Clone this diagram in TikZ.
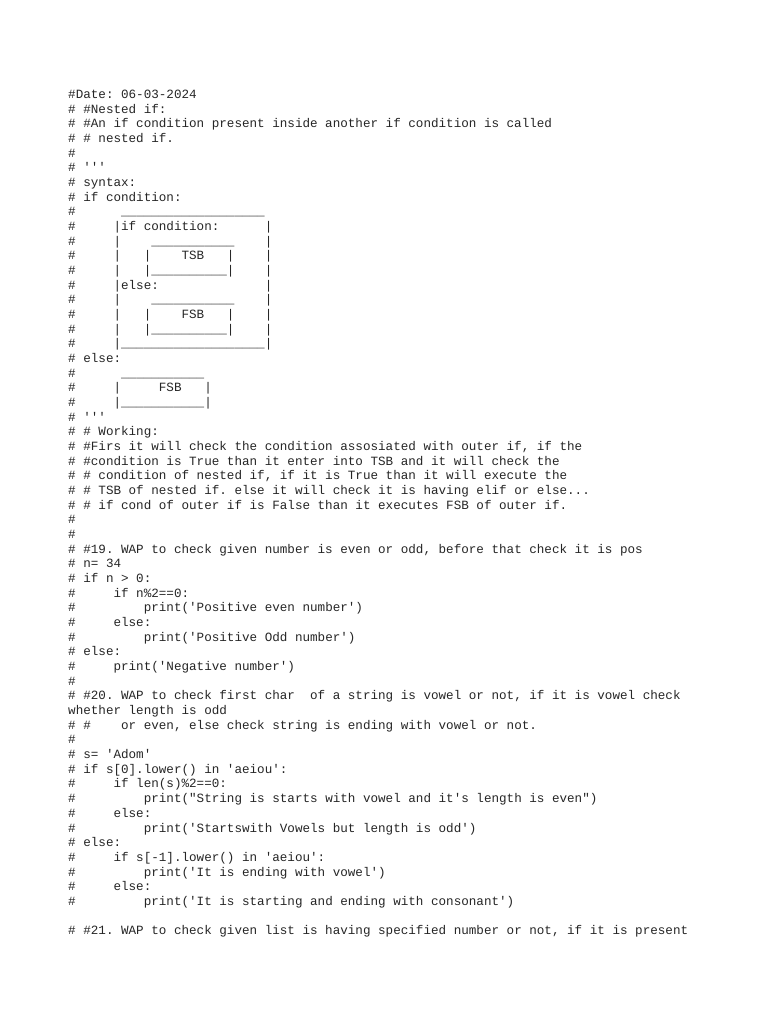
\documentclass[tikz,border=0pt]{standalone}
\usepackage{fontspec}
\setmonofont{Liberation Mono}
\begin{document}
\begin{tikzpicture}[x=1pt,y=1pt,ln/.style={anchor=base west,inner sep=0pt,font=\ttfamily\fontsize{12.6}{14}\selectfont,text=black!85}]
\fill[white] (0,0) rectangle (768,-1024);
\useasboundingbox (0,0) rectangle (768,-1024);
\newcommand\codeline[2]{\node[ln] (l#1) at (68,{-(98.5+14.67*(#1-1))}) {#2};}
\codeline{1}{\#Date: 06-03-2024}
\codeline{2}{\# \#Nested if:}
\codeline{3}{\# \#An if condition present inside another if condition is called}
\codeline{4}{\# \# nested if.}
\codeline{5}{\#}
\codeline{6}{\# '{}'{}'}
\codeline{7}{\# syntax:}
\codeline{8}{\# if condition:}
\codeline{9}{\#~~~~~~\_\_\_\_\_\_\_\_\_\_\_\_\_\_\_\_\_\_\_}
\codeline{10}{\#~~~~~|if condition:~~~~~~|}
\codeline{11}{\#~~~~~|~~~~\_\_\_\_\_\_\_\_\_\_\_~~~~|}
\codeline{12}{\#~~~~~|~~~|~~~~TSB~~~|~~~~|}
\codeline{13}{\#~~~~~|~~~|\_\_\_\_\_\_\_\_\_\_|~~~~|}
\codeline{14}{\#~~~~~|else:~~~~~~~~~~~~~~|}
\codeline{15}{\#~~~~~|~~~~\_\_\_\_\_\_\_\_\_\_\_~~~~|}
\codeline{16}{\#~~~~~|~~~|~~~~FSB~~~|~~~~|}
\codeline{17}{\#~~~~~|~~~|\_\_\_\_\_\_\_\_\_\_|~~~~|}
\codeline{18}{\#~~~~~|\_\_\_\_\_\_\_\_\_\_\_\_\_\_\_\_\_\_\_|}
\codeline{19}{\# else:}
\codeline{20}{\#~~~~~~\_\_\_\_\_\_\_\_\_\_\_}
\codeline{21}{\#~~~~~|~~~~~FSB~~~|}
\codeline{22}{\#~~~~~|\_\_\_\_\_\_\_\_\_\_\_|}
\codeline{23}{\# '{}'{}'}
\codeline{24}{\# \# Working:}
\codeline{25}{\# \#Firs it will check the condition assosiated with outer if, if the}
\codeline{26}{\# \#condition is True than it enter into TSB and it will check the}
\codeline{27}{\# \# condition of nested if, if it is True than it will execute the}
\codeline{28}{\# \# TSB of nested if. else it will check it is having elif or else...}
\codeline{29}{\# \# if cond of outer if is False than it executes FSB of outer if.}
\codeline{30}{\#}
\codeline{31}{\#}
\codeline{32}{\# \#19. WAP to check given number is even or odd, before that check it is pos}
\codeline{33}{\# n= 34}
\codeline{34}{\# if n > 0:}
\codeline{35}{\#~~~~~if n\%2==0:}
\codeline{36}{\#~~~~~~~~~print('Positive even number')}
\codeline{37}{\#~~~~~else:}
\codeline{38}{\#~~~~~~~~~print('Positive Odd number')}
\codeline{39}{\# else:}
\codeline{40}{\#~~~~~print('Negative number')}
\codeline{41}{\#}
\codeline{42}{\# \#20. WAP to check first char~~of a string is vowel or not, if it is vowel check}
\codeline{43}{whether length is odd}
\codeline{44}{\# \#~~~~or even, else check string is ending with vowel or not.}
\codeline{45}{\#}
\codeline{46}{\# s= 'Adom'}
\codeline{47}{\# if s[0].lower() in 'aeiou':}
\codeline{48}{\#~~~~~if len(s)\%2==0:}
\codeline{49}{\#~~~~~~~~~print("String is starts with vowel and it's length is even")}
\codeline{50}{\#~~~~~else:}
\codeline{51}{\#~~~~~~~~~print('Startswith Vowels but length is odd')}
\codeline{52}{\# else:}
\codeline{53}{\#~~~~~if s[-1].lower() in 'aeiou':}
\codeline{54}{\#~~~~~~~~~print('It is ending with vowel')}
\codeline{55}{\#~~~~~else:}
\codeline{56}{\#~~~~~~~~~print('It is starting and ending with consonant')}
\codeline{58}{\# \#21. WAP to check given list is having specified number or not, if it is present}
\end{tikzpicture}
\end{document}
